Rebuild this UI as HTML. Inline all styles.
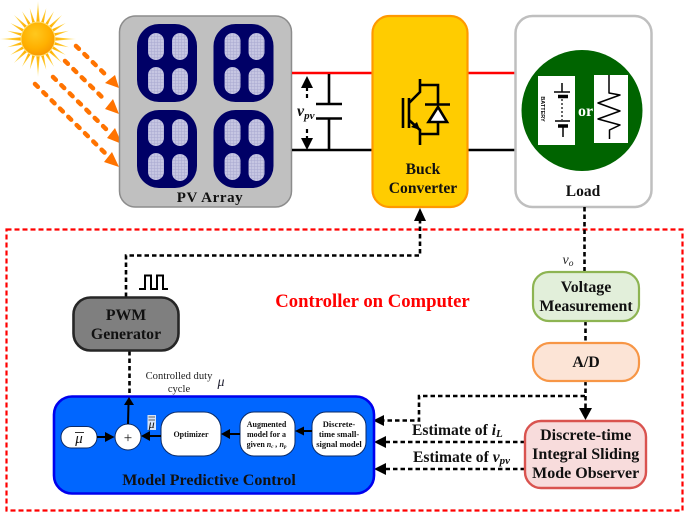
<!DOCTYPE html>
<html>
<head>
<meta charset="utf-8">
<style>
html,body{margin:0;padding:0;background:#fff}
svg{display:block;font-family:"Liberation Serif",serif}
text{text-anchor:middle;font-weight:bold;fill:#111}
</style>
</head>
<body>
<svg width="685" height="514" viewBox="0 0 685 514" xmlns="http://www.w3.org/2000/svg">
<defs>
<radialGradient id="s" cx="42%" cy="35%" r="70%"><stop offset="0" stop-color="#ffc81e"/><stop offset=".6" stop-color="#ffb000"/><stop offset="1" stop-color="#f79400"/></radialGradient>
<radialGradient id="ray" gradientUnits="userSpaceOnUse" cx="38" cy="39" r="38"><stop offset=".45" stop-color="#ffb000"/><stop offset=".75" stop-color="#ffd040"/><stop offset="1" stop-color="#fff2b0"/></radialGradient>
<pattern id="mesh" width="3" height="3" patternUnits="userSpaceOnUse"><rect width="3" height="3" fill="#c6c6e2"/><path d="M0 0H3M0 0V3" stroke="#a8a8d0" stroke-width="1"/></pattern>
<g id="cell"><rect width="16" height="27" rx="8" fill="url(#mesh)"/></g>
<g id="mod">
<rect width="60" height="78" rx="22" fill="#000066"/>
<use href="#cell" x="11" y="9"/><use href="#cell" x="35" y="9"/>
<use href="#cell" x="11" y="43"/><use href="#cell" x="35" y="44"/>
</g>
</defs>

<!-- Sun -->
<g fill="url(#ray)">
<polygon points="35,39 38,1 41,39"/>
<polygon points="35,39 38,1 41,39" transform="rotate(90 38 39)"/>
<polygon points="35,39 38,1 41,39" transform="rotate(180 38 39)"/>
<polygon points="35,39 38,1 41,39" transform="rotate(270 38 39)"/>
<polygon points="35,39 38,5 41,39" transform="rotate(45 38 39)"/>
<polygon points="35,39 38,5 41,39" transform="rotate(135 38 39)"/>
<polygon points="35,39 38,5 41,39" transform="rotate(225 38 39)"/>
<polygon points="35,39 38,5 41,39" transform="rotate(315 38 39)"/>
<polygon points="35,39 38,7 41,39" transform="rotate(15 38 39)"/>
<polygon points="35,39 38,7 41,39" transform="rotate(30 38 39)"/>
<polygon points="35,39 38,7 41,39" transform="rotate(60 38 39)"/>
<polygon points="35,39 38,7 41,39" transform="rotate(75 38 39)"/>
<polygon points="35,39 38,7 41,39" transform="rotate(105 38 39)"/>
<polygon points="35,39 38,7 41,39" transform="rotate(120 38 39)"/>
<polygon points="35,39 38,7 41,39" transform="rotate(150 38 39)"/>
<polygon points="35,39 38,7 41,39" transform="rotate(165 38 39)"/>
<polygon points="35,39 38,7 41,39" transform="rotate(195 38 39)"/>
<polygon points="35,39 38,7 41,39" transform="rotate(210 38 39)"/>
<polygon points="35,39 38,7 41,39" transform="rotate(240 38 39)"/>
<polygon points="35,39 38,7 41,39" transform="rotate(255 38 39)"/>
<polygon points="35,39 38,7 41,39" transform="rotate(285 38 39)"/>
<polygon points="35,39 38,7 41,39" transform="rotate(300 38 39)"/>
<polygon points="35,39 38,7 41,39" transform="rotate(330 38 39)"/>
<polygon points="35,39 38,7 41,39" transform="rotate(345 38 39)"/>
</g>
<circle cx="38" cy="39" r="17" fill="url(#s)" stroke="#ffe27a" stroke-width="1"/>

<!-- Sun rays -->
<g fill="none" stroke="#ff7300" stroke-width="4.500" stroke-dasharray="4 7.700" stroke-linecap="round">
<path d="M76 46L108 77"/><path d="M65 61L104 99"/><path d="M53 77L108 131"/><path d="M35 84L107 155"/>
</g>
<polygon points="119,88 105,83 115,75" fill="#ff7300"/>
<polygon points="119,114 105,109 113,99" fill="#ff7300"/>
<polygon points="122,144 107,138 115,128" fill="#ff7300"/>
<polygon points="119,167 104,162 112,152" fill="#ff7300"/>

<!-- PV array -->
<rect x="119.500" y="16" width="172" height="191" rx="16" fill="#c0c0c0" stroke="#8c8c8c" stroke-width="1.500"/>
<use href="#mod" x="137" y="24"/><use href="#mod" x="213.500" y="24"/>
<use href="#mod" x="137" y="110"/><use href="#mod" x="213.500" y="110"/>
<text x="210" y="202" font-size="15" letter-spacing=".6">PV Array</text>

<!-- DC bus -->
<path d="M292 73H372M468 73H515" stroke="#f00" stroke-width="2.600"/>
<path d="M292 150H372M468 150H515" stroke="#000" stroke-width="2.600"/>
<path d="M329 74V104M316 104H342M316 118.500H342M329 118.500V150" stroke="#000" stroke-width="2.600" fill="none"/>
<path d="M307 87V99M307 129V138" stroke="#000" stroke-width="2.200" stroke-dasharray="4 3" fill="none"/>
<polygon points="307,76 301,88 313,88" fill="#000"/>
<polygon points="307,150 301,138 313,138" fill="#000"/>
<text x="297" y="116" font-size="16" font-style="italic" style="text-anchor:start">v<tspan font-size="11" dy="3">pv</tspan></text>

<!-- Buck -->
<rect x="372.500" y="16" width="95" height="191" rx="17" fill="#ffcc00" stroke="#ff9900" stroke-width="2.200"/>
<g stroke="#000" stroke-width="2.600" fill="none">
<path d="M403 98V128M409 98V128"/>
<path d="M420 79V92L409 103"/>
<path d="M420 85H438V105"/>
<path d="M409 120L420 130V145"/>
<path d="M420 134H438V122"/>
<path d="M425 104.500H450"/>
<polygon points="438,107 428.500,122 447,122" fill="#fff"/>
</g>
<polygon points="420,130 411,127 417,122" fill="#000"/>
<text x="423" y="174" font-size="15.600">Buck</text>
<text x="423" y="193" font-size="15.600">Converter</text>

<!-- Load -->
<rect x="515.500" y="16" width="136" height="191" rx="17" fill="#fff" stroke="#bfbfbf" stroke-width="2.500"/>
<circle cx="582" cy="110.500" r="60.500" fill="#006400"/>
<rect x="538" y="76" width="37" height="69" fill="#fff"/>
<rect x="594" y="75" width="34" height="68" fill="#fff"/>
<g stroke="#000" fill="none">
<path d="M562 83V92M554 92H570" stroke-width="1.500"/>
<path d="M558 96.500H568" stroke-width="3.500"/>
<path d="M562 99V120" stroke-width="1.200" stroke-dasharray="2 2"/>
<path d="M555 121H570" stroke-width="1.500"/>
<path d="M558 126H568" stroke-width="3.500"/>
<path d="M563 127V137" stroke-width="1.500"/>
<path d="M609 75V93L620 95L598 103L620 111L598 119L620 125L609.500 130V139" stroke-width="1.500" stroke-linejoin="round"/>
</g>
<text transform="translate(541,109) rotate(90)" font-size="5.500" style="font-family:'Liberation Sans',sans-serif">BATTERY</text>
<text x="585.500" y="116" font-size="16" style="fill:#fff">or</text>
<text x="583" y="196" font-size="15.500">Load</text>

<!-- Controller box -->
<rect x="6.500" y="229.500" width="676" height="281" fill="none" stroke="#f00" stroke-width="2.200" stroke-dasharray="5 3"/>
<text x="372.500" y="307" font-size="18.700" style="fill:#f00">Controller on Computer</text>

<!-- Dashed links -->
<g fill="none" stroke="#000" stroke-width="2.600" stroke-dasharray="4.500 3">
<path d="M126 297V255.500H420V220"/>
<path d="M129.500 351V398"/>
<path d="M584.500 207V272"/>
<path d="M585.500 321V343"/>
<path d="M585.500 381V408"/>
<path d="M585 396H419V420.500H384"/>
<path d="M525 442H385"/>
<path d="M525 469H385"/>
</g>
<polygon points="420,208 414,221 426,221" fill="#000"/>
<polygon points="585.500,420 579,408 592,408" fill="#000"/>
<polygon points="373,420.500 384,415 384,426" fill="#000"/>
<polygon points="374,442 386,436 386,448" fill="#000"/>
<polygon points="374,469 386,463 386,475" fill="#000"/>

<!-- PWM -->
<path d="M139 289H145V275.500H151V289H157V275.500H163V289H168" fill="none" stroke="#000" stroke-width="2"/>
<rect x="73.500" y="297.500" width="105" height="53" rx="17" fill="#7f7f7f" stroke="#262626" stroke-width="2.600"/>
<text x="126" y="320" font-size="15.800">PWM</text>
<text x="126" y="339" font-size="15.800">Generator</text>

<text x="179" y="379" font-size="10.600" style="font-weight:normal;fill:#222">Controlled duty</text>
<text x="179" y="392" font-size="10.600" style="font-weight:normal;fill:#222">cycle</text>
<text x="221" y="386" font-size="14" font-style="italic" style="font-weight:normal;fill:#223">μ</text>

<!-- Voltage / AD / Observer -->
<text x="568" y="264" font-size="14" font-style="italic" style="font-weight:normal;fill:#222">v<tspan font-size="9.500" dy="2">o</tspan></text>
<rect x="533" y="272" width="106" height="49" rx="16" fill="#e2efda" stroke="#8db452" stroke-width="2.200"/>
<text x="586" y="292" font-size="15.900">Voltage</text>
<text x="586" y="311" font-size="15.900">Measurement</text>
<rect x="533" y="343" width="106" height="38" rx="17" fill="#fce4d6" stroke="#f79646" stroke-width="2.200"/>
<text x="586" y="367" font-size="15.900">A/D</text>
<rect x="525" y="421" width="121" height="67" rx="16" fill="#f8dcdc" stroke="#d9534f" stroke-width="2.400"/>
<text x="585.700" y="440" font-size="16">Discrete-time</text>
<text x="585.700" y="459" font-size="16">Integral Sliding</text>
<text x="585.700" y="478" font-size="16">Mode Observer</text>

<text x="412" y="435" font-size="15.600" style="text-anchor:start">Estimate of <tspan font-style="italic">i<tspan font-size="11" dy="2">L</tspan></tspan></text>
<text x="413" y="462" font-size="15.600" style="text-anchor:start">Estimate of <tspan font-style="italic">v<tspan font-size="11" dy="2">pv</tspan></tspan></text>

<!-- MPC -->
<rect x="54" y="396.500" width="320" height="97" rx="18" fill="#0066ff" stroke="#0000ee" stroke-width="2.600"/>
<rect x="61" y="426.500" width="36" height="21.500" rx="10.500" fill="#fff" stroke="#0a2a66" stroke-width="1"/>
<text x="79" y="443" font-size="15" font-style="italic" style="font-weight:normal">μ</text>
<path d="M75 432.500H84" stroke="#333" stroke-width="1" fill="none"/>
<circle cx="128" cy="437" r="13" fill="#fff" stroke="#0a2a66" stroke-width="1"/>
<text x="128" y="442.500" font-size="15" style="font-weight:normal">+</text>
<rect x="161" y="412" width="60" height="44" rx="17" fill="#fff" stroke="#0a2a66" stroke-width="1"/>
<text x="191" y="437" font-size="8">Optimizer</text>
<rect x="240" y="412" width="55" height="44" rx="14" fill="#fff" stroke="#0a2a66" stroke-width="1"/>
<text x="266.500" y="427" font-size="8">Augmented</text>
<text x="266.500" y="437" font-size="8">model for a</text>
<text x="266.500" y="447" font-size="8">given <tspan font-style="italic">n<tspan font-size="5" dy="1">c</tspan><tspan dy="-1"> , n</tspan><tspan font-size="5" dy="1">p</tspan></tspan></text>
<rect x="312" y="412" width="54" height="44" rx="14" fill="#fff" stroke="#0a2a66" stroke-width="1"/>
<text x="339" y="427" font-size="8.500">Discrete-</text>
<text x="339" y="437" font-size="8.500">time small-</text>
<text x="339" y="447" font-size="8.500">signal model</text>
<rect x="147.500" y="415" width="8.500" height="15" fill="#d8e4f8"/>
<text x="151.700" y="428" font-size="12" font-style="italic" style="font-weight:normal">μ</text>
<path d="M148.500 417H155M148.500 420H155" stroke="#333" stroke-width=".8" fill="none"/>
<text x="209" y="485" font-size="16">Model Predictive Control</text>

<g stroke="#000" stroke-width="2" fill="none">
<path d="M97 437H108"/>
<path d="M161 436H148"/>
<path d="M240 434H228"/>
<path d="M312 431H302"/>
<path d="M128 424L128.500 404"/>
</g>
<polygon points="114.500,437 105,432 105,442" fill="#000"/>
<polygon points="141,436 150,431 150,441" fill="#000"/>
<polygon points="221,434 230,429 230,439" fill="#000"/>
<polygon points="295,431 304,426.500 304,435.500" fill="#000"/>
<polygon points="129,397 124,405 134,405" fill="#000"/>
</svg>
</body>
</html>
